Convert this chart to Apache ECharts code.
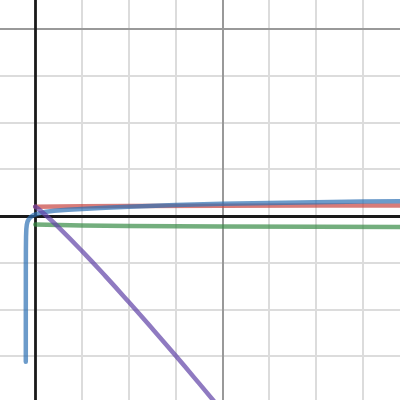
<!DOCTYPE html>
<html>
<head>
<meta charset="utf-8">
<script src="https://cdn.jsdelivr.net/npm/echarts@6/dist/echarts.min.js"></script>
<style>html,body{margin:0;padding:0;background:#fff}#c{width:400px;height:400px}</style>
</head>
<body>
<div id="c"></div>
<script>
// View window (graph units)
const xRange = [-0.3775, 3.9005];
const yRange = [-1.968, 2.310];
// Grid lines
const minorX = [0.5, 1, 1.5, 2.5, 3, 3.5];
const majorX = [2];
const minorY = [-1.5, -1, -0.5, 0.5, 1, 1.5];
const majorY = [2];
// Curves
const redPts = [[0, 0.100], [0.5, 0.105], [1, 0.108], [2, 0.110], [3, 0.111], [3.95, 0.112]];
const bluePts = [[-0.1016, -1.56], [-0.1015, -1.0], [-0.1012, -0.6], [-0.1005, -0.35], [-0.099, -0.22],
  [-0.096, -0.14], [-0.091, -0.095], [-0.083, -0.06], [-0.07, -0.035], [-0.05, -0.012], [-0.02, 0.008],
  [0.03, 0.025], [0.1, 0.042], [0.2, 0.055], [0.35, 0.066], [0.5, 0.076], [0.75, 0.089], [1.0, 0.1],
  [1.5, 0.117], [2.0, 0.13], [2.5, 0.14], [3.0, 0.148], [3.5, 0.154], [3.95, 0.158]];
const greenPts = [[0, -0.091], [0.5, -0.101], [1, -0.107], [2, -0.112], [3, -0.116], [3.95, -0.118]];
const purplePts = [[0, 0.10], [0.1, 0.019], [0.25, -0.122], [0.5, -0.376], [0.75, -0.643], [1, -0.92],
  [1.25, -1.204], [1.5, -1.493], [1.75, -1.788], [2, -2.087]];

const chart = echarts.init(document.getElementById('c'), null, {renderer: 'canvas'});

function gridSeries(xs, ys, color, width, z) {
  const data = xs.map(v => ({xAxis: v})).concat(ys.map(v => ({yAxis: v})));
  return {
    type: 'line', data: [], z: z, silent: true,
    markLine: {
      silent: true, symbol: ['none', 'none'], animation: false,
      label: {show: false},
      lineStyle: {color: color, width: width, type: 'solid'},
      emphasis: {disabled: true},
      data: data
    }
  };
}
function curve(pts, color, z, smooth) {
  return {
    type: 'line', data: pts, z: z, showSymbol: false, smooth: smooth, silent: true,
    lineStyle: {color: color, width: 4.5, opacity: 0.7, cap: 'round', join: 'round'},
    animation: false
  };
}

chart.setOption({
  animation: false,
  backgroundColor: '#ffffff',
  grid: {left: 0, right: 0, top: 0, bottom: 0},
  xAxis: {type: 'value', min: xRange[0], max: xRange[1], axisLine: {show: false}, axisTick: {show: false},
    axisLabel: {show: false}, splitLine: {show: false}},
  yAxis: {type: 'value', min: yRange[0], max: yRange[1], axisLine: {show: false}, axisTick: {show: false},
    axisLabel: {show: false}, splitLine: {show: false}},
  series: [
    gridSeries(minorX, minorY, '#dcdcdc', 2, 1),
    gridSeries(majorX, majorY, '#999999', 2, 2),
    gridSeries([0], [0], '#1a1a1a', 2.8, 3),
    curve(redPts, '#c74440', 5, false),
    curve(bluePts, '#2d70b3', 6, false),
    curve(greenPts, '#388c46', 7, false),
    curve(purplePts, '#6042a6', 8, true)
  ]
});
</script>
</body>
</html>
